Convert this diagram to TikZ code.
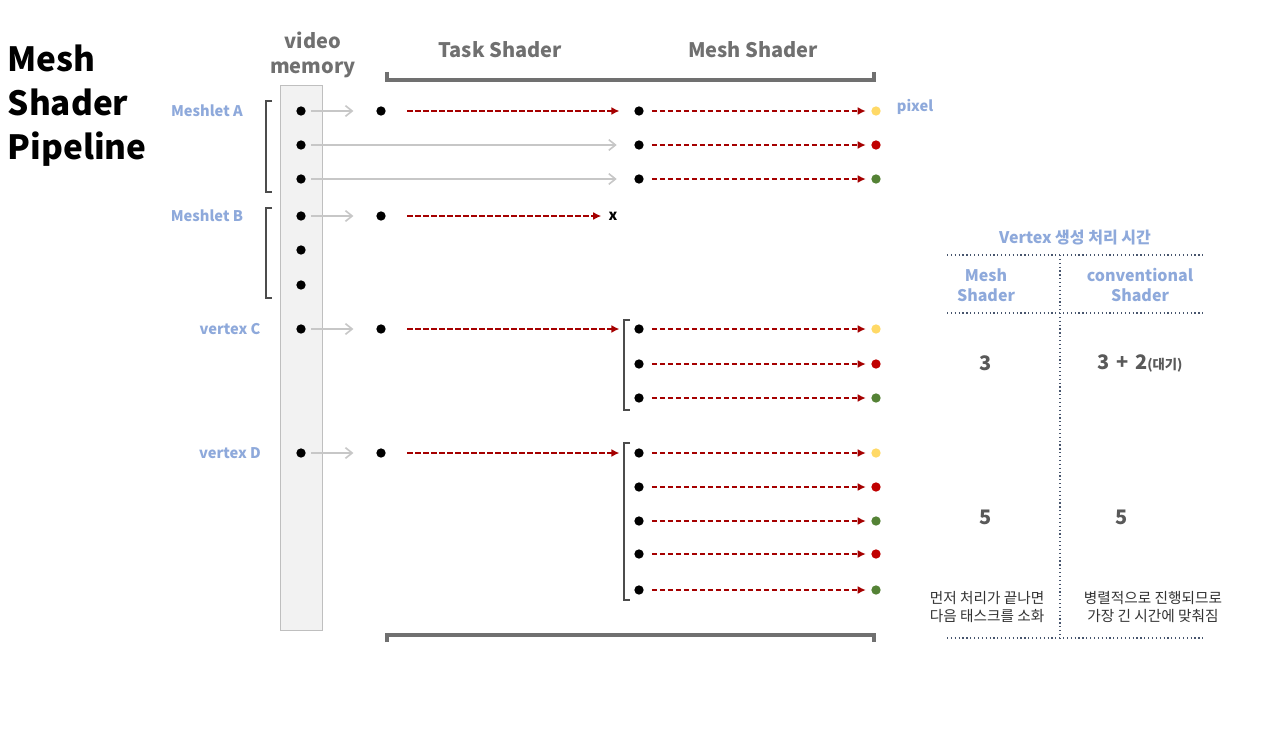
\documentclass[tikz,border=0pt]{standalone}
\usepackage{fontspec}
\setmainfont{Noto Sans CJK KR}
\usetikzlibrary{arrows.meta}
\definecolor{lbl}{HTML}{8EA9DB}
\definecolor{gr}{HTML}{707070}
\definecolor{dred}{HTML}{A50000}
\definecolor{pY}{HTML}{FFD966}
\definecolor{pR}{HTML}{C00000}
\definecolor{pG}{HTML}{548235}
\tikzset{
 dot/.style={circle,fill=black,inner sep=0pt,minimum size=7pt},
 pix/.style={circle,fill=#1,inner sep=0pt,minimum size=7pt},
 garr/.style={draw=black!22,line width=1.2pt,-{Straight Barb[length=5pt,width=8pt]}},
 rarr/.style={draw=dred,line width=1.3pt,dash pattern=on 4pt off 2pt,-{Latex[length=6pt,width=6pt]}},
 lab/.style={text=lbl,font=\bfseries\fontsize{11}{13}\selectfont},
 tlab/.style={text=lbl,font=\bfseries\fontsize{12}{15}\selectfont,align=center},
 head/.style={text=gr,font=\bfseries\fontsize{15}{17}\selectfont,align=center},
 brk/.style={draw=black!70,line width=0.9pt},
 tline/.style={draw=lbl!50!black,line width=0.9pt,dotted},
 num/.style={text=black!65,font=\bfseries\fontsize{15}{17}\selectfont},
 note/.style={text=black!80,font=\fontsize{11}{14}\selectfont,align=center}
}
\begin{document}
\begin{tikzpicture}[x=0.75pt,y=-0.75pt]
\useasboundingbox (0,0) rectangle (1280,742);
\fill[white] (0,0) rectangle (1280,742);
\node[anchor=west,align=left,font=\bfseries\fontsize{25}{33}\selectfont] (title) at (3,106) {Mesh\\Shader\\Pipeline};
\node[head,font=\bfseries\fontsize{15}{19}\selectfont] (vm) at (313,55) {video\\memory};
\node[draw=black!25,fill=black!5,minimum width=31.5pt,minimum height=409pt,inner sep=0pt,anchor=north] (col) at (301,85) {};
\node[head] (ts) at (500,50) {Task Shader};
\node[head] (ms) at (753,50) {Mesh Shader};
\draw[gr,line width=2.4pt] (387,72) -- (387,80) -- (874,80) -- (874,72);
\draw[gr,line width=2.4pt] (387,642) -- (387,635) -- (874,635) -- (874,642);
\node[lab] (la) at (207,111) {Meshlet A};
\node[lab] (lb) at (207,216) {Meshlet B};
\node[lab] (lc) at (230,329) {vertex C};
\node[lab] (ld) at (230,453) {vertex D};
\node[lab] (lp) at (915,107) {pixel};
\draw[brk] (272,101) -- (266,101) -- (266,192) -- (272,192);
\draw[brk] (272,208) -- (266,208) -- (266,298) -- (272,298);
\draw[brk] (630,320) -- (624,320) -- (624,410) -- (630,410);
\draw[brk] (630,443) -- (624,443) -- (624,600) -- (630,600);
\foreach \n/\y in {m1/111,m2/145,m3/179,m4/216,m5/250,m6/285,m7/329,m8/453}
  \node[dot] (\n) at (301,\y) {};
\foreach \n/\y in {t1/111,t4/216,t7/329,t8/453}
  \node[dot] (\n) at (381,\y) {};
\foreach \a/\b in {m1/t1,m4/t4,m7/t7,m8/t8}
  \draw[garr,shorten <=4pt,shorten >=17pt] (\a) -- (\b);
\foreach \n/\y/\c in {a1/111/pY,a2/145/pR,a3/179/pG,c1/329/pY,c2/364/pR,c3/398/pG,d1/453/pY,d2/487/pR,d3/521/pG,d4/554/pR,d5/590/pG}{
  \node[dot] (s\n) at (639,\y) {};
  \node[pix=\c] (p\n) at (876,\y) {};
  \draw[rarr,shorten <=6pt,shorten >=4pt] (s\n) -- (p\n);
}
\draw[garr,shorten <=4pt,shorten >=13pt] (m2) -- (sa2);
\draw[garr,shorten <=4pt,shorten >=13pt] (m3) -- (sa3);
\draw[rarr,shorten <=16pt,shorten >=11pt] (t1) -- (sa1);
\draw[rarr,shorten <=16pt,shorten >=11pt] (t7) -- (sc1);
\draw[rarr,shorten <=16pt,shorten >=11pt] (t8) -- (sd1);
\node[font=\bfseries\fontsize{11}{13}\selectfont] (x) at (613,216) {x};
\draw[rarr,shorten <=16pt,shorten >=2pt] (t4) -- (x);
\node[tlab] (tt) at (1075,238) {Vertex 생성 처리 시간};
\draw[tline] (947,255) -- (1203,255);
\draw[tline] (947,313) -- (1203,313);
\draw[tline] (947,638) -- (1203,638);
\draw[tline] (1060,255) -- (1060,638);
\node[tlab] (h1) at (986,285) {Mesh\\Shader};
\node[tlab] (h2) at (1140,285) {conventional\\Shader};
\node[num] (n1) at (986,363) {3};
\node[num] (n2) at (1140,363) {3\,\,+\,\,2{\fontsize{10}{12}\selectfont(대기)}};
\node[num] (n3) at (986,517) {5};
\node[num] (n4) at (1122,517) {5};
\node[note] (o1) at (987,607) {먼저 처리가 끝나면\\다음 태스크를 소화};
\node[note] (o2) at (1153,607) {병렬적으로 진행되므로\\가장 긴 시간에 맞춰짐};
\end{tikzpicture}
\end{document}
